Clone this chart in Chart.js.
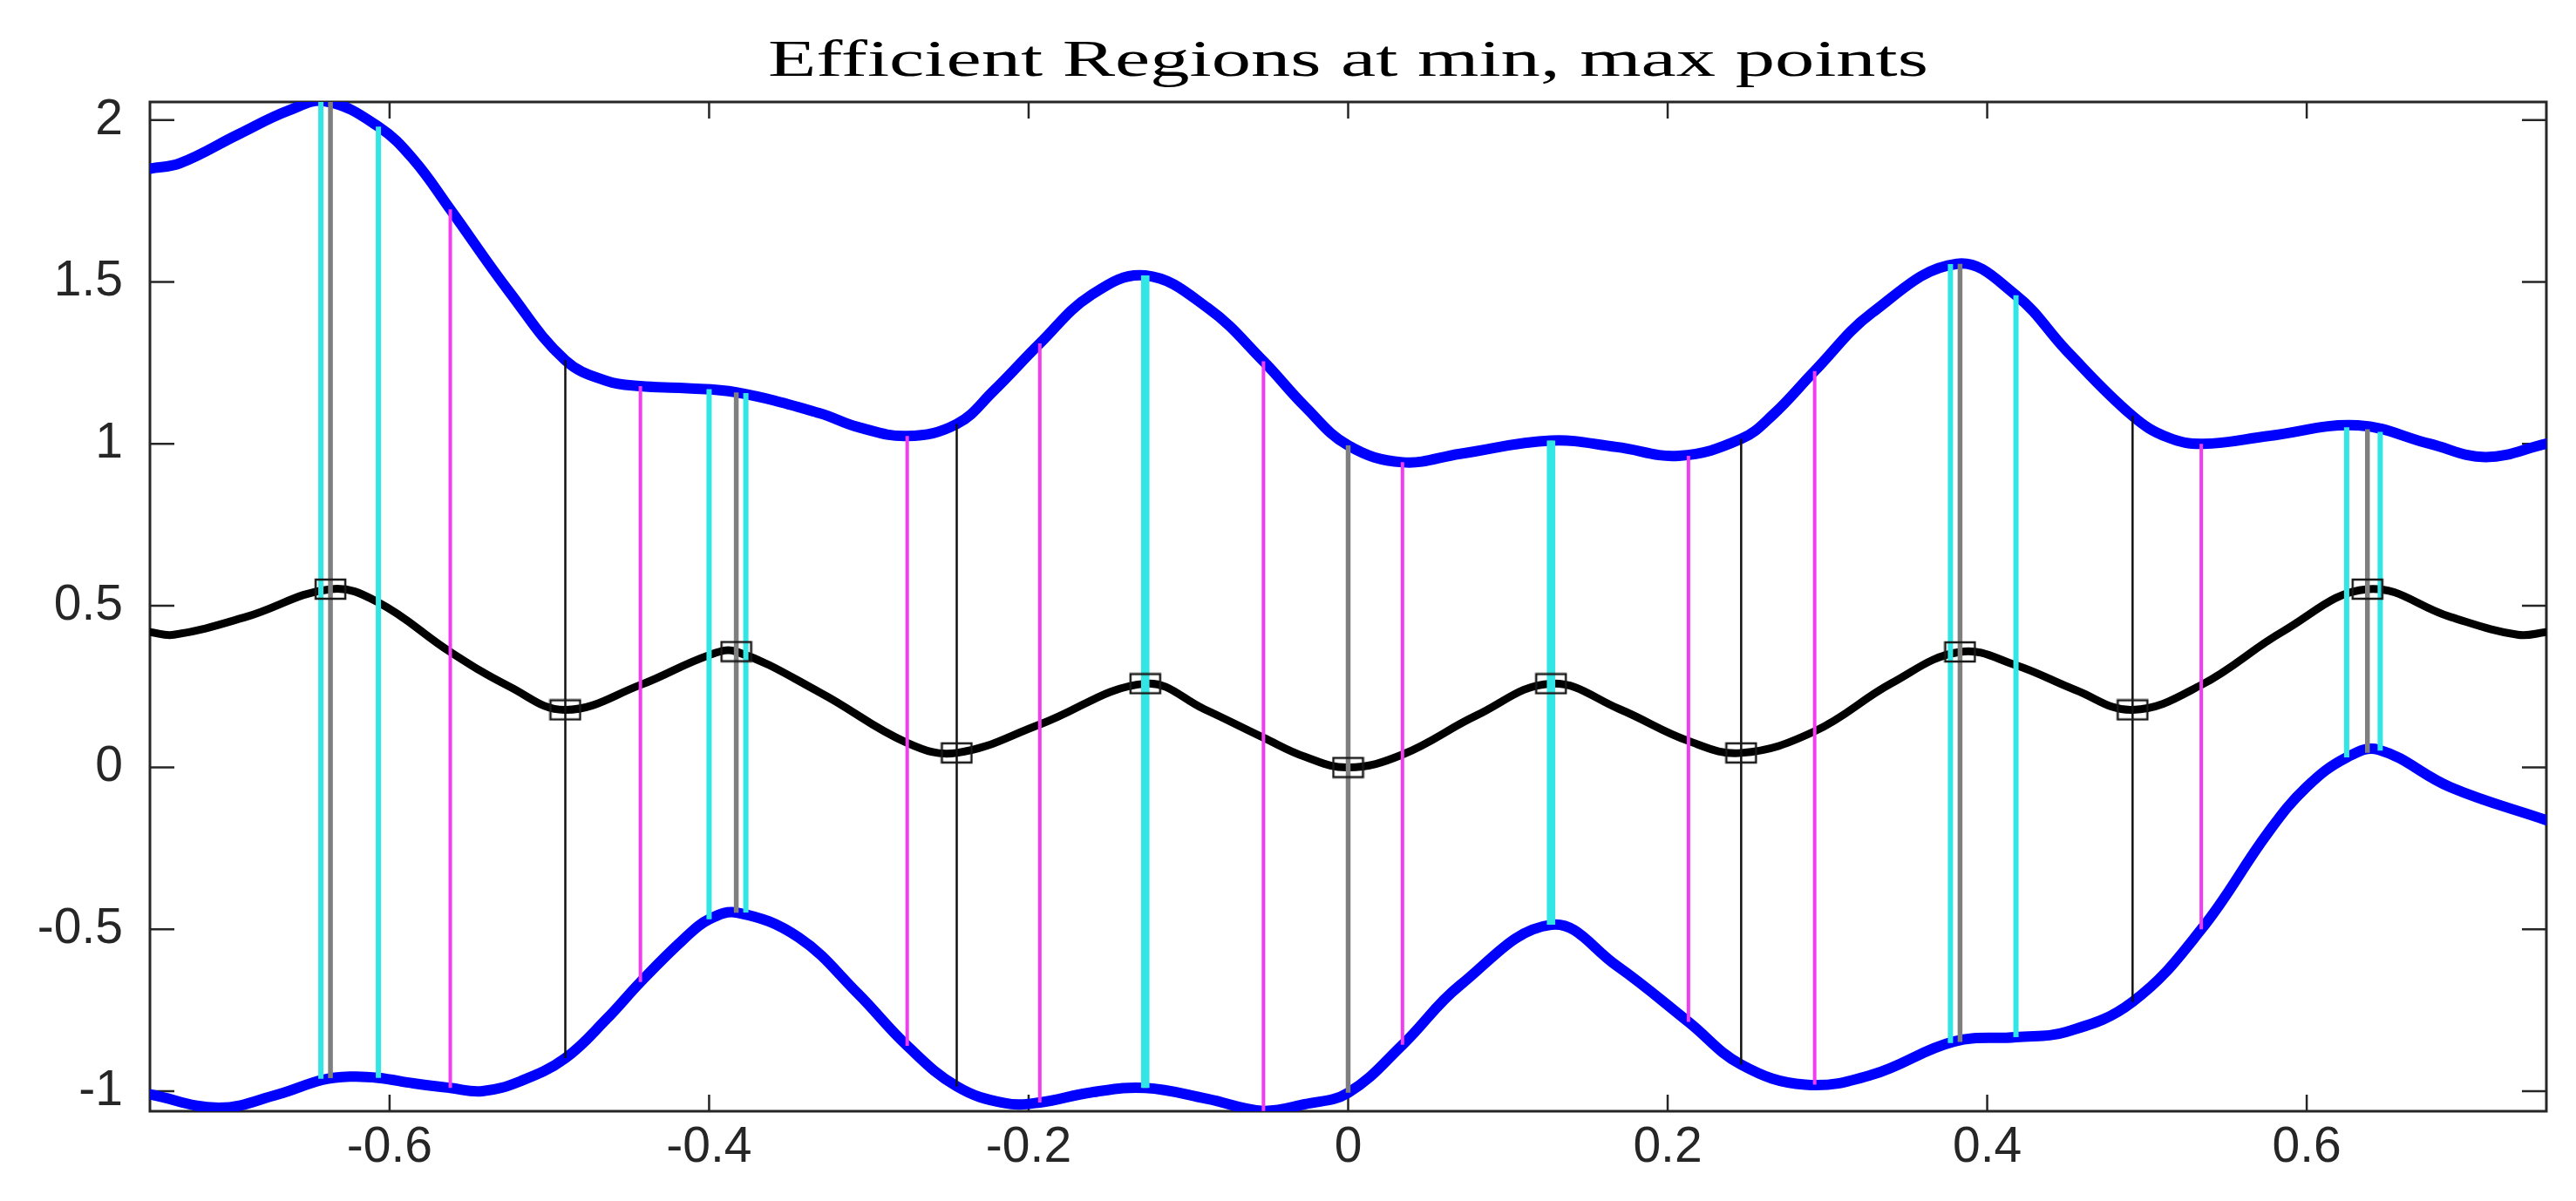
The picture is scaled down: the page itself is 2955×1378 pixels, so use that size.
<!DOCTYPE html>
<html>
<head>
<meta charset="utf-8">
<script src="https://cdn.jsdelivr.net/npm/chart.js@4.4.0/dist/chart.umd.min.js"></script>
<style>
  html, body { margin: 0; padding: 0; background: #fff; }
  #wrap { width: 2955px; height: 1378px; }
</style>
</head>
<body>
<div id="wrap"><canvas id="myChart"></canvas></div>
<script>
// values
const titleText = 'Efficient Regions at min, max points';
const xTicks = [-0.6, -0.4, -0.2, 0, 0.2, 0.4, 0.6];
const yTicks = [-1, -0.5, 0, 0.5, 1, 1.5, 2];

const upperX = [-0.75, -0.731, -0.695, -0.663, -0.64, -0.607, -0.585, -0.562, -0.525, -0.49, -0.464, -0.443, -0.416, -0.383, -0.331, -0.307, -0.276, -0.245, -0.222, -0.193, -0.161, -0.127, -0.088, -0.053, -0.027, 0, 0.034, 0.07, 0.127, 0.168, 0.207, 0.246, 0.266, 0.292, 0.328, 0.381, 0.418, 0.45, 0.491, 0.513, 0.535, 0.576, 0.632, 0.677, 0.712, 0.75];
const upperY = [1.85, 1.867, 1.955, 2.03, 2.058, 1.98, 1.878, 1.724, 1.469, 1.258, 1.194, 1.178, 1.172, 1.159, 1.095, 1.052, 1.024, 1.061, 1.163, 1.31, 1.459, 1.52, 1.42, 1.255, 1.115, 0.995, 0.943, 0.969, 1.01, 0.99, 0.963, 1.015, 1.09, 1.225, 1.405, 1.556, 1.459, 1.286, 1.086, 1.02, 1.0, 1.024, 1.057, 1.0, 0.959, 1.0];

const lowerX = [-0.75, -0.707, -0.67, -0.642, -0.624, -0.607, -0.585, -0.562, -0.542, -0.518, -0.49, -0.464, -0.443, -0.416, -0.4, -0.382, -0.344, -0.307, -0.276, -0.245, -0.215, -0.193, -0.161, -0.127, -0.088, -0.053, -0.027, 0, 0.034, 0.07, 0.127, 0.168, 0.213, 0.246, 0.286, 0.328, 0.379, 0.418, 0.45, 0.491, 0.534, 0.576, 0.6, 0.625, 0.645, 0.69, 0.75];
const lowerY = [-1.01, -1.051, -1.01, -0.965, -0.955, -0.959, -0.976, -0.99, -1.0, -0.969, -0.898, -0.776, -0.663, -0.531, -0.469, -0.449, -0.525, -0.698, -0.86, -0.985, -1.037, -1.035, -1.004, -0.99, -1.024, -1.061, -1.04, -1.005, -0.857, -0.673, -0.486, -0.612, -0.786, -0.918, -0.98, -0.949, -0.847, -0.833, -0.816, -0.724, -0.5, -0.2, -0.06, 0.031, 0.055, -0.061, -0.163];

const midX = [-0.75, -0.735, -0.69, -0.637, -0.607, -0.562, -0.525, -0.49, -0.443, -0.4, -0.383, -0.33, -0.276, -0.245, -0.193, -0.127, -0.09, -0.053, -0.027, 0, 0.034, 0.08, 0.127, 0.17, 0.213, 0.246, 0.292, 0.34, 0.383, 0.418, 0.455, 0.491, 0.534, 0.585, 0.638, 0.69, 0.732, 0.75];
const midY = [0.418, 0.41, 0.465, 0.551, 0.51, 0.357, 0.25, 0.178, 0.255, 0.347, 0.358, 0.23, 0.076, 0.045, 0.133, 0.259, 0.18, 0.092, 0.033, 0, 0.04, 0.16, 0.259, 0.18, 0.082, 0.045, 0.112, 0.26, 0.357, 0.316, 0.24, 0.178, 0.255, 0.42, 0.551, 0.465, 0.41, 0.418];

// min / max points of the middle curve
const extX = [-0.637, -0.49, -0.383, -0.245, -0.127, 0, 0.127, 0.246, 0.383, 0.491, 0.638];
const extY = [0.551, 0.178, 0.358, 0.045, 0.259, 0, 0.259, 0.045, 0.357, 0.178, 0.551];

// vertical region lines (x, bottom, top)
const cyanX  = [-0.643, -0.607, -0.4, -0.377, -0.128, -0.126, 0.126, 0.128, 0.377, 0.418, 0.625, 0.646];
const cyanLo = [-0.962, -0.959, -0.469, -0.448, -0.99, -0.99, -0.486, -0.486, -0.851, -0.833, 0.031, 0.052];
const cyanHi = [2.057, 1.98, 1.169, 1.157, 1.52, 1.52, 1.01, 1.01, 1.555, 1.459, 1.051, 1.037];

const grayX  = [-0.637, -0.383, -0.127, 0, 0.127, 0.383, 0.638];
const grayLo = [-0.96, -0.449, -0.99, -1.005, -0.486, -0.848, 0.045];
const grayHi = [2.058, 1.159, 1.52, 0.995, 1.01, 1.556, 1.045];

const blackX  = [-0.49, -0.245, 0.246, 0.491];
const blackLo = [-0.898, -0.985, -0.918, -0.724];
const blackHi = [1.258, 1.061, 1.015, 1.086];

const magentaX  = [-0.562, -0.443, -0.276, -0.193, -0.053, 0.034, 0.213, 0.292, 0.534];
const magentaLo = [-0.99, -0.663, -0.86, -1.035, -1.061, -0.857, -0.786, -0.98, -0.5];
const magentaHi = [1.724, 1.178, 1.024, 1.31, 1.255, 0.943, 0.963, 1.225, 1.0];

const axisColor = '#262626';

function pts(xs, ys) {
    return xs.map((x, i) => ({ x: x, y: ys[i] }));
}

function segments(xs, lo, hi) {
    const out = [];
    xs.forEach((x, i) => {
        out.push({ x: x, y: lo[i] }, { x: x, y: hi[i] }, { x: x, y: null });
    });
    return out;
}

// open square marker (comes out wide in the original figure)
const marker = document.createElement('canvas');
marker.width = 38;
marker.height = 26;
const mctx = marker.getContext('2d');
mctx.strokeStyle = '#1a1a1a';
mctx.lineWidth = 2.5;
mctx.strokeRect(2, 2, 34, 22);

function vline(data, color, width) {
    return {
        data: data,
        borderColor: color,
        borderWidth: width,
        pointRadius: 0,
        tension: 0,
        spanGaps: false,
        fill: false
    };
}

function curve(data, color, width) {
    return {
        data: data,
        borderColor: color,
        borderWidth: width,
        pointRadius: 0,
        tension: 0.4,
        borderCapStyle: 'round',
        borderJoinStyle: 'round'
    };
}

// box with inward ticks on all four sides
const boxPlugin = {
    id: 'box',
    beforeDatasetsDraw(chart) {
        const ctx = chart.ctx;
        const a = chart.chartArea;
        const xs = chart.scales.x;
        const ys = chart.scales.y;
        ctx.save();
        ctx.strokeStyle = axisColor;
        ctx.lineWidth = 3;
        ctx.strokeRect(a.left, a.top, a.right - a.left, a.bottom - a.top);
        ctx.lineWidth = 2.5;
        ctx.beginPath();
        xTicks.forEach(v => {
            const px = xs.getPixelForValue(v);
            ctx.moveTo(px, a.bottom);
            ctx.lineTo(px, a.bottom - 19);
            ctx.moveTo(px, a.top);
            ctx.lineTo(px, a.top + 19);
        });
        yTicks.forEach(v => {
            const py = ys.getPixelForValue(v);
            ctx.moveTo(a.left, py);
            ctx.lineTo(a.left + 28, py);
            ctx.moveTo(a.right, py);
            ctx.lineTo(a.right - 28, py);
        });
        ctx.stroke();
        ctx.restore();
    }
};

// title, centred over the plot box and stretched like the original export
const titlePlugin = {
    id: 'wideTitle',
    afterDraw(chart) {
        const ctx = chart.ctx;
        const a = chart.chartArea;
        ctx.save();
        ctx.font = '60px "Liberation Serif", "DejaVu Serif", serif';
        ctx.fillStyle = '#000000';
        ctx.textBaseline = 'alphabetic';
        ctx.textAlign = 'center';
        const w = ctx.measureText(titleText).width;
        const sx = 1331 / w;
        ctx.translate((a.left + a.right) / 2, 87);
        ctx.scale(sx, 1);
        ctx.fillText(titleText, 0, 0);
        ctx.restore();
    }
};

const ctx = document.getElementById('myChart').getContext('2d');
const myChart = new Chart(ctx, {
    type: 'line',
    data: {
        datasets: [
            {
                type: 'scatter',
                data: pts(extX, extY),
                showLine: false,
                pointStyle: marker,
                pointRadius: 12
            },
            vline(segments(cyanX, cyanLo, cyanHi), '#33e6e6', 6),
            vline(segments(magentaX, magentaLo, magentaHi), '#f23cf0', 4),
            vline(segments(blackX, blackLo, blackHi), '#111111', 2.5),
            vline(segments(grayX, grayLo, grayHi), '#7f7f7f', 5.5),
            curve(pts(midX, midY), '#000000', 9),
            curve(pts(upperX, upperY), '#0000ff', 12),
            curve(pts(lowerX, lowerY), '#0000ff', 12)
        ]
    },
    options: {
        responsive: true,
        maintainAspectRatio: false,
        devicePixelRatio: 1,
        animation: false,
        layout: {
            padding: { left: 0, right: 34, top: 117, bottom: 0 }
        },
        plugins: {
            legend: { display: false },
            tooltip: { enabled: false },
            title: { display: false }
        },
        scales: {
            x: {
                type: 'linear',
                min: -0.75,
                max: 0.75,
                afterBuildTicks: scale => { scale.ticks = xTicks.map(v => ({ value: v })); },
                afterFit: scale => { scale.height = 103; },
                grid: { display: false, drawTicks: false },
                border: { display: false },
                ticks: {
                    color: axisColor,
                    padding: 8,
                    maxRotation: 0,
                    font: { family: '"Liberation Sans", Arial, sans-serif', size: 57 },
                    callback: v => String(v)
                }
            },
            y: {
                type: 'linear',
                min: -1.062,
                max: 2.056,
                afterBuildTicks: scale => { scale.ticks = yTicks.map(v => ({ value: v })); },
                afterFit: scale => { scale.width = 172; },
                grid: { display: false, drawTicks: false },
                border: { display: false },
                ticks: {
                    color: axisColor,
                    padding: 31,
                    font: { family: '"Liberation Sans", Arial, sans-serif', size: 57 },
                    callback: v => String(v)
                }
            }
        }
    },
    plugins: [boxPlugin, titlePlugin]
});
</script>
</body>
</html>
